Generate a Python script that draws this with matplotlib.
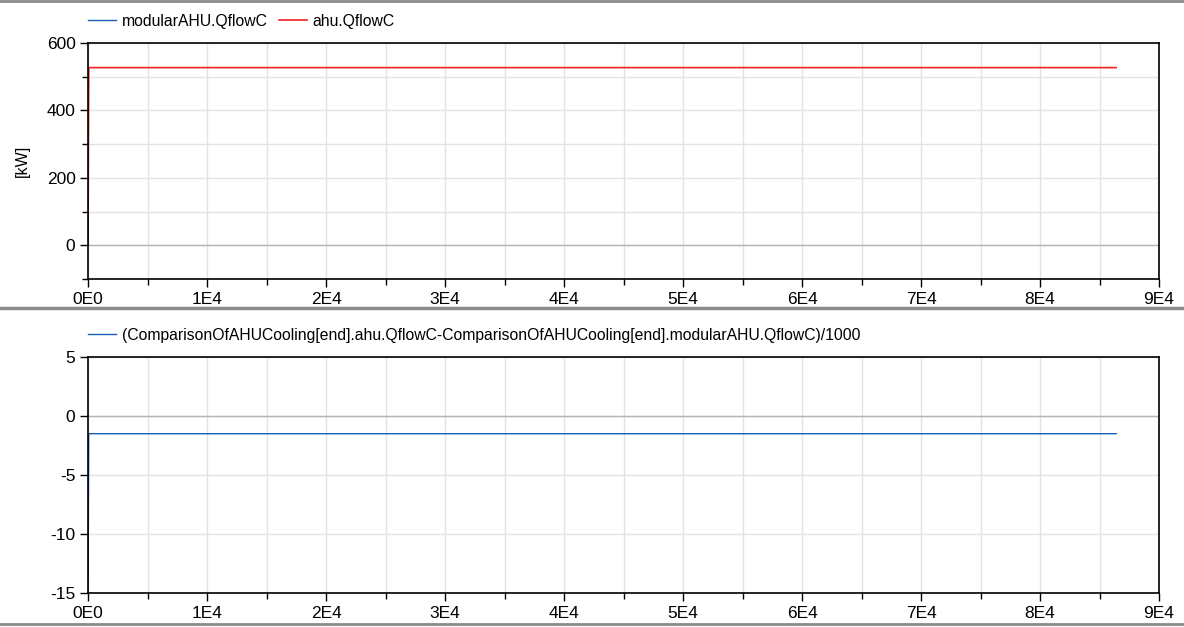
import matplotlib
matplotlib.use('Agg')
import matplotlib.pyplot as plt
from matplotlib.lines import Line2D
from matplotlib.ticker import MultipleLocator

plt.rcParams['font.family'] = ['Liberation Sans', 'DejaVu Sans']
plt.rcParams['font.size'] = 10
plt.rcParams['axes.unicode_minus'] = False

# data
time = [0, 60, 86400]
modular_qflow = [0, 527.0, 527.0]
ahu_qflow = [0, 527.0, 527.0]
diff_time = [0, 60, 86400]
diff_qflow = [-16, -1.5, -1.5]

x_ticks = [0, 10000, 20000, 30000, 40000, 50000, 60000, 70000, 80000, 90000]
x_tick_labels = ['0E0', '1E4', '2E4', '3E4', '4E4', '5E4', '6E4', '7E4', '8E4', '9E4']
top_y_ticks = [0, 200, 400, 600]
bot_y_ticks = [-15, -10, -5, 0, 5]

blue = '#1a5fb4'
red = '#f22424'

fig = plt.figure(figsize=(11.84, 6.27), dpi=100)
ax1 = fig.add_axes([88/1184, 1-279/627, (1159-88)/1184, (279-43)/627])
ax2 = fig.add_axes([88/1184, 1-593/627, (1159-88)/1184, (593-357)/627])


def style(ax, ylim, yticks, yminor):
    ax.set_xlim(0, 90000)
    ax.set_ylim(*ylim)
    ax.set_xticks(x_ticks)
    ax.set_xticklabels(x_tick_labels)
    ax.set_yticks(yticks)
    ax.xaxis.set_minor_locator(MultipleLocator(5000))
    if yminor:
        ax.yaxis.set_minor_locator(MultipleLocator(yminor))
    ax.grid(True, which='both', color='#e3e3e3', lw=1)
    ax.axhline(0, color='#b4b4b4', lw=1, zorder=1)
    ax.set_axisbelow(True)
    ax.tick_params(which='major', length=6, width=1, direction='out', labelsize=12.5, pad=3)
    ax.tick_params(which='minor', length=4.5, width=1, direction='out')
    for s in ax.spines.values():
        s.set_linewidth(1.2)
        s.set_color('black')


leg_kw = dict(loc='lower left', bbox_to_anchor=(0, 1.06), frameon=False,
              handlelength=1.78, handletextpad=0.38, columnspacing=0.7,
              borderaxespad=0, borderpad=0, fontsize=11.3)

style(ax1, (-100, 600), top_y_ticks, 100)
ax1.plot(time, modular_qflow, color=blue, lw=0.6, label='modularAHU.QflowC')
ax1.plot(time, ahu_qflow, color=red, lw=1.2, label='ahu.QflowC')
ax1.set_ylabel('[kW]', labelpad=12, fontsize=11.5)
leg = ax1.legend(ncol=2, **leg_kw)
leg.get_lines()[0].set_linewidth(1)

style(ax2, (-15, 5), bot_y_ticks, None)
ax2.plot(diff_time, diff_qflow, color=blue, lw=1,
         label='(ComparisonOfAHUCooling[end].ahu.QflowC-ComparisonOfAHUCooling[end].modularAHU.QflowC)/1000')
ax2.legend(ncol=1, **leg_kw)

# panel separators
for yy, lw in [(1 - 1/627, 2), (1 - 308/627, 2.5), (1 - 624/627, 2)]:
    fig.add_artist(Line2D([0, 1], [yy, yy], transform=fig.transFigure, color='#8a8a8a', lw=lw))

fig.savefig('out.png', dpi=100)
